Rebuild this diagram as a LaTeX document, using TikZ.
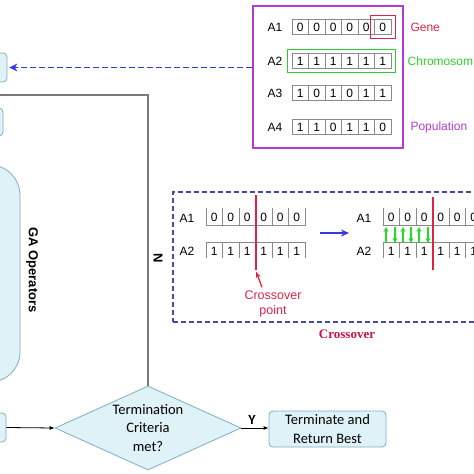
\documentclass[tikz,border=0pt]{standalone}
\usepackage{fontspec}
\setmainfont{Carlito}
\newfontfamily\arialfont{Liberation Sans}
\newfontfamily\timesfont{Liberation Serif}
\usepackage{tikz}
\usetikzlibrary{shapes.geometric, arrows.meta, fit}

\begin{document}
\begin{tikzpicture}[x=1pt, y=-1pt]

\def \w {16.5}

\definecolor{boxfill}{HTML}{DFF2F8}
\definecolor{boxline}{HTML}{7FAFC0}
\definecolor{flowgray}{HTML}{7A7A7A}
\definecolor{popline}{HTML}{B43CD2}
\definecolor{genered}{HTML}{DD2448}
\definecolor{chromgreen}{HTML}{2ECC2E}
\definecolor{xoverblue}{HTML}{4848A8}
\definecolor{xred}{HTML}{CC1144}
\definecolor{arrowblue}{HTML}{2F3BE0}
\definecolor{swapgreen}{HTML}{22DD22}
\definecolor{cellgray}{HTML}{8A8A8A}

\tikzset{
  flowbox/.style={draw=boxline, fill=boxfill, line width=0.8pt, rounded corners=4pt, inner sep=0pt},
  decision/.style={diamond, draw=boxline, fill=boxfill, line width=0.8pt, inner sep=0pt,
    minimum width=186pt, minimum height=84pt},
  flowtext/.style={align=center, font=\fontsize{14.5}{18.5}\selectfont},
  flowline/.style={draw=flowgray, line width=1.5pt},
  popfont/.style={font=\arialfont\fontsize{12}{15}\selectfont},
  cell/.style={draw=cellgray, line width=0.6pt, minimum width=16.5pt, minimum height=15pt,
    inner sep=0pt, popfont},
  digit/.style={inner sep=0pt, popfont},
  cellline/.style={draw=cellgray, line width=0.6pt},
  cutline/.style={draw=genered, line width=2pt},
  swaparrow/.style={draw=swapgreen, line width=1.4pt, -{Stealth[length=5pt, width=5pt]}}
}

\useasboundingbox (0,0) rectangle (474,474);
\clip (0,0) rectangle (474,474);

% Flowchart boxes, cut by the left edge
\node (init) at (-31.5,67.5) [flowbox, minimum width=77pt, minimum height=29pt] {};
\node (fitness) at (-35,122) [flowbox, minimum width=76pt, minimum height=28pt] {};
\node (gaops) at (-20,273.5) [flowbox, rounded corners=30pt, minimum width=80pt, minimum height=217pt] {};
\node (evaluate) at (-32,427.5) [flowbox, minimum width=76pt, minimum height=29pt] {};
\node (gatext) at (32,270) [rotate=-90, font=\arialfont\bfseries\fontsize{13}{15}\selectfont] {GA Operators};

% Decision and end
\node (term) at (148,428) [decision] {};
\node (termtext) at (term.center) [flowtext] {Termination\\Criteria\\met?};
\node (done) at (327.5,429) [flowbox, flowtext, minimum width=117pt, minimum height=36pt] {Terminate and\\Return Best};

% Flow connectors
\coordinate (back) at (0,95);
\draw [flowline] (term.north) -- (term.north |- back) -- (back);
\draw [-{Latex[length=5pt, width=4pt]}, line width=0.8pt] (evaluate.east) -- (term.west);
\draw [-{Latex[length=5pt, width=4pt]}, line width=0.8pt] (term.east) -- (term.east -| done.west);
\node (nlabel) at (158,258) [rotate=-90, font=\arialfont\bfseries\fontsize{13}{15}\selectfont] {N};
\node (ylabel) at (252,420) [font=\bfseries\fontsize{14}{16}\selectfont] {Y};

% Population
\node (pop) at (328,77) [draw=popline, line width=1.3pt, minimum width=150pt, minimum height=142pt] {};
\foreach \row/\y/\bits in {1/27/{0,0,0,0,0,0}, 2/61/{1,1,1,1,1,1}, 3/93/{1,0,1,0,1,1}, 4/127/{1,1,0,1,1,0}} {
  \node (a\row) at (275,\y) [popfont] {A\row};
  \foreach \b [count=\col] in \bits {
    \node (a\row c\col) at ({283.75+\w*\col},\y) [cell] {\b};
  }
}
\node (gene) [fit=(a1c6), inner sep=4pt, draw=genered, line width=1.3pt] {};
\node (chrom) [fit=(a2c1)(a2c6), inner sep=4pt, draw=chromgreen, line width=1.3pt] {};
\node (genelabel) at (407,27) [anchor=west, text=genered, popfont] {Gene};
\node (chromlabel) at (407,61) [anchor=west, inner sep=0.5pt, text=chromgreen, popfont] {Chromosom};
\node (poplabel) at (407,127) [anchor=west, text=popline, popfont] {Population};

% Dashed link back to the flowchart
\draw [draw=arrowblue, line width=1.2pt, dash pattern=on 6pt off 3pt, -{Stealth[length=8pt, width=8pt, inset=2.5pt]}, shorten >=2pt]
  (init.east -| pop.west) -- (init.east);

% Crossover
\node (xbox) at (343,257) [draw=xoverblue, line width=1.1pt, dash pattern=on 5pt off 3pt, minimum width=340pt, minimum height=130pt] {};
\node (xlabel) at (347,334) [text=xred, font=\timesfont\bfseries\fontsize{13}{15}\selectfont] {Crossover};

% Parents before and after the cut
\foreach \side/\x in {l/206, r/383} {
  \node (\side a1) at (\x-19,218) [popfont] {A1};
  \node (\side a2) at (\x-19,251) [popfont] {A2};
  \draw [cellline] (\x,208) |- (\x+6*\w,225) -- (\x+6*\w,208);
  \draw [cellline] (\x,258) |- (\x+6*\w,242) -- (\x+6*\w,258);
  \foreach \col in {1,...,5} {
    \draw [cellline] (\x+\col*\w,208) -- (\x+\col*\w,225);
    \draw [cellline] (\x+\col*\w,242) -- (\x+\col*\w,258);
  }
  \foreach \col in {1,...,6} {
    \node (\side p\col) at (\x+\col*\w-\w/2,217) [digit] {0};
    \node (\side q\col) at (\x+\col*\w-\w/2,251) [digit] {1};
  }
}

% Cut points
\coordinate (lcuttop) at (206+3*\w,195);
\coordinate (lcutbot) at (206+3*\w,270);
\coordinate (rcuttop) at (383+3*\w,197);
\coordinate (rcutbot) at (383+3*\w,270);
\draw [cutline] (lcuttop) -- (lcutbot);
\draw [cutline] (rcuttop) -- (rcutbot);

\node (xpoint) at (273,304) [align=center, text=genered, font=\arialfont\fontsize{12.5}{15}\selectfont] {Crossover\\point};
\draw [draw=genered, line width=1.3pt, -{Stealth[length=6pt, width=5pt]}, shorten >=2pt] ([xshift=-11pt]xpoint.north) -- (lcutbot);

% Swap
\coordinate (swapfrom) at (320,233);
\coordinate (swapto) at (349,233);
\draw [draw=arrowblue, line width=1.8pt, -{Stealth[length=8pt, width=7pt]}] (swapfrom) -- (swapto);

\foreach \gx/\ya/\yb in {386/243/227, 395/227/243, 403/243/227, 411/227/243, 419/243/227, 428/227/243} {
  \draw [swaparrow] (\gx,\ya) -- (\gx,\yb);
}

\end{tikzpicture}
\end{document}
